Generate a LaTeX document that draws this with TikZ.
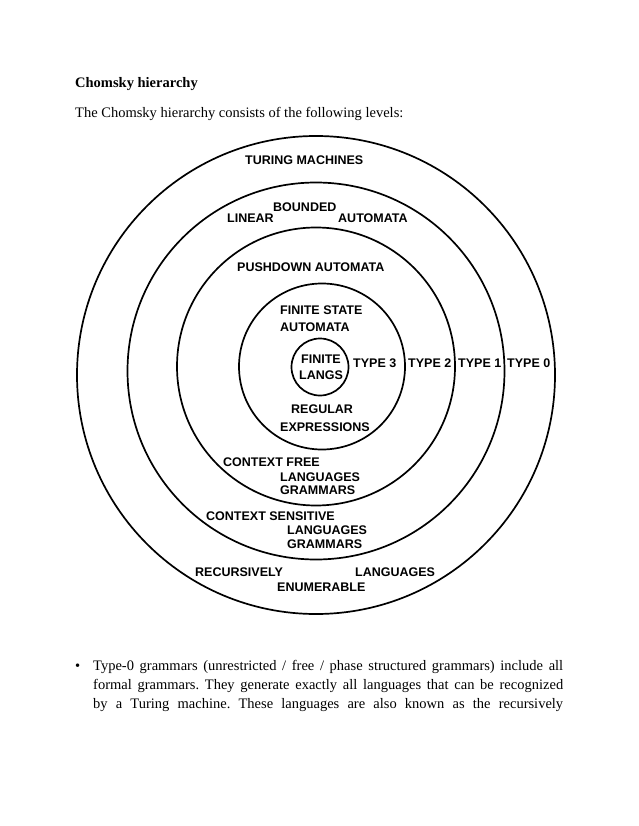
\documentclass[tikz,border=0pt]{standalone}
\usepackage{fontspec}
\setmainfont{Liberation Serif}
\newfontfamily\diafont{Liberation Sans}
\begin{document}
\begin{tikzpicture}[x=1pt,y=-1pt,
  ring/.style={draw=black, circle, line width=1.7pt, inner sep=0pt, outer sep=0pt},
  lbl/.style={font=\diafont\bfseries\fontsize{12.5}{14}\selectfont, inner sep=0pt, anchor=west},
  clbl/.style={lbl, anchor=center},
  body/.style={font=\fontsize{14.5}{19.3}\selectfont\frenchspacing, inner sep=0pt}]
\fill[white] (0,0) rectangle (638,826);
\useasboundingbox (0,0) rectangle (638,826);

% heading
\node[body, font=\fontsize{14.5}{19.3}\selectfont\bfseries, anchor=base west] (title) at (75,88) {Chomsky hierarchy};
\node[body, anchor=base west] (intro) at (75,118) {The Chomsky hierarchy consists of the following levels:};

% rings
\node[ring, minimum size=478pt] (c0) at (316,375) {};
\node[ring, minimum size=377pt] (c1) at (316,371) {};
\node[ring, minimum size=278pt] (c2) at (316,366.5) {};
\node[ring, minimum size=166pt] (c3) at (322,366.5) {};
\node[ring, minimum size=57pt] (c4) at (320,367) {};

% labels
\node[lbl] (tm) at (245,160) {TURING MACHINES};
\node[lbl] (bnd) at (273,207) {BOUNDED};
\node[lbl] (lin) at (227,218) {LINEAR};
\node[lbl] (lba) at (338,218) {AUTOMATA};
\node[lbl] (pda) at (237,267) {PUSHDOWN AUTOMATA};
\node[lbl] (fs) at (280,310) {FINITE STATE};
\node[lbl] (fsa) at (280,327) {AUTOMATA};
\node[clbl] (fin) at (321,359) {FINITE};
\node[clbl] (lng) at (321,375) {LANGS};
\node[lbl] (t3) at (353,363) {TYPE 3};
\node[lbl] (t2) at (408,363) {TYPE 2};
\node[lbl] (t1) at (458,363) {TYPE 1};
\node[lbl] (t0) at (507,363) {TYPE 0};
\node[lbl] (reg) at (291,409) {REGULAR};
\node[lbl] (exp) at (280,427) {EXPRESSIONS};
\node[lbl] (cf) at (223,462) {CONTEXT FREE};
\node[lbl] (cfl) at (280,477) {LANGUAGES};
\node[lbl] (cfg) at (280,490) {GRAMMARS};
\node[lbl] (cs) at (206,516) {CONTEXT SENSITIVE};
\node[lbl] (csl) at (287,530) {LANGUAGES};
\node[lbl] (csg) at (287,544) {GRAMMARS};
\node[lbl] (rec) at (195,572) {RECURSIVELY};
\node[lbl] (rel) at (355,572) {LANGUAGES};
\node[lbl] (enu) at (277,587) {ENUMERABLE};

% bullet paragraph
\node[body, anchor=base west] (bul) at (75,670) {\textbullet};
\node[body, anchor=base west] (l1) at (93,670) {\makebox[470pt][s]{Type-0 grammars (unrestricted / free / phase structured grammars) include all}};
\node[body, anchor=base west] (l2) at (93,689.3) {\makebox[470pt][s]{formal grammars. They generate exactly all languages that can be recognized}};
\node[body, anchor=base west] (l3) at (93,708.6) {\makebox[470pt][s]{by a Turing machine. These languages are also known as the recursively}};
\end{tikzpicture}
\end{document}
